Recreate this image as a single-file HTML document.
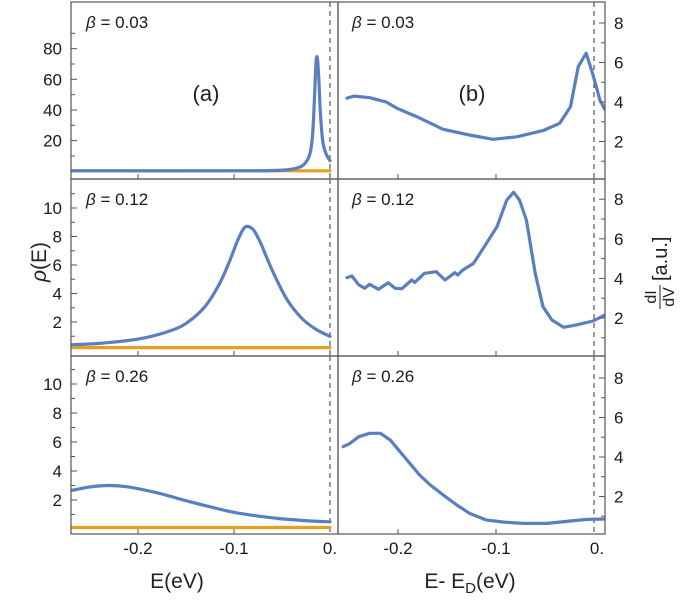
<!DOCTYPE html>
<html><head><meta charset="utf-8"><style>
body{margin:0;background:#fff;}
svg{display:block;font-family:"Liberation Sans",sans-serif;}
</style></head><body>
<svg id="c" width="685" height="602" xmlns="http://www.w3.org/2000/svg"></svg>
<script>
// ---- data ----
const topLeftX = [-0.27,-0.1,-0.06,-0.045,-0.035,-0.028,-0.023,-0.02,-0.018,-0.016,-0.0145,-0.013,-0.0115,-0.01,-0.008,-0.006,-0.003,0];
const topLeftY = [0.3,0.3,0.5,1,2,4,8,14,25,50,72,73,58,38,22,15,10,7];
const midLeftX = [-0.27,-0.24,-0.2,-0.17,-0.15,-0.13,-0.115,-0.105,-0.097,-0.09,-0.085,-0.079,-0.072,-0.06,-0.045,-0.03,-0.015,0];
const midLeftY = [0.4,0.5,0.8,1.3,1.9,3.1,4.7,6.2,7.6,8.55,8.7,8.4,7.5,5.6,3.6,2.3,1.5,1.0];
const botLeftX = [-0.27,-0.25,-0.23,-0.21,-0.18,-0.15,-0.12,-0.1,-0.07,-0.05,-0.02,0];
const botLeftY = [2.65,2.9,3.0,2.9,2.5,1.95,1.45,1.15,0.85,0.7,0.55,0.5];
const orangeX = [-0.27,0];
const orangeTop = [0.3,0.3];
const orangeMid = [0.2,0.2];
const orangeBot = [0.1,0.1];
const topRightX = [-0.252,-0.245,-0.229,-0.212,-0.201,-0.181,-0.154,-0.127,-0.103,-0.079,-0.052,-0.035,-0.024,-0.016,-0.008,-0.001,0.006,0.011];
const topRightY = [4.19,4.3,4.22,4.0,3.68,3.26,2.62,2.33,2.11,2.24,2.55,2.92,3.76,5.79,6.47,5.37,4.1,3.63];
const midRightX = [-0.252,-0.247,-0.24,-0.234,-0.229,-0.22,-0.21,-0.203,-0.196,-0.186,-0.183,-0.173,-0.161,-0.152,-0.142,-0.139,-0.134,-0.123,-0.113,-0.099,-0.089,-0.082,-0.076,-0.069,-0.06,-0.052,-0.043,-0.031,-0.018,-0.001,0.011];
const midRightY = [4.04,4.12,3.67,3.5,3.7,3.45,3.78,3.5,3.48,3.92,3.8,4.26,4.34,3.92,4.29,4.17,4.42,4.76,5.52,6.61,7.96,8.35,7.96,6.95,4.26,2.57,1.9,1.53,1.65,1.85,2.15];
const botRightX = [-0.256,-0.249,-0.24,-0.229,-0.218,-0.208,-0.198,-0.188,-0.178,-0.167,-0.154,-0.14,-0.127,-0.11,-0.093,-0.072,-0.048,-0.024,-0.007,0.011];
const botRightY = [4.52,4.69,5.03,5.2,5.2,4.86,4.27,3.68,3.09,2.58,2.08,1.57,1.15,0.81,0.71,0.64,0.64,0.76,0.84,0.86];
const xTickVals = [-0.2,-0.1,0];
const xTickLabels = ["-0.2","-0.1","0."];
const topLeftTicks = [20,40,60,80];
const smallLeftTicks = [2,4,6,8,10];
const rightTicks = [2,4,6,8];
const betas = ["0.03","0.12","0.26"];

const NS="http://www.w3.org/2000/svg";
const svg=document.getElementById('c');
function el(tag,attrs,parent){const e=document.createElementNS(NS,tag);for(const k in attrs)e.setAttribute(k,attrs[k]);(parent||svg).appendChild(e);return e;}
const BLUE="#5a7fbf", ORANGE="#e6a020";
const rows=[{t:2,b:179},{t:179,b:356},{t:356,b:534}];
const L={l:71,r:338,x0:330,k:960};
const R={l:338,r:605,x0:594,k:980};
function xl(v){return L.x0+v*L.k;}
function xr(v){return R.x0+v*R.k;}
const leftY=[{z:171.3,s:1.533},{z:350.5,s:14.25},{z:529,s:14.5}];
const rightY=[{z:181,s:19.75},{z:357.6,s:19.8},{z:536,s:19.75}];

function line(xs,ys,fx,fy,color,name,clip,smooth){
  const P=xs.map((x,i)=>[fx(x),fy(ys[i])]);
  let p='M'+P[0][0].toFixed(1)+','+P[0][1].toFixed(1);
  for(let i=0;i<P.length-1;i++){
    if(smooth){
      const p0=P[Math.max(0,i-1)],p1=P[i],p2=P[i+1],p3=P[Math.min(P.length-1,i+2)];
      const c1=[p1[0]+(p2[0]-p0[0])/6,p1[1]+(p2[1]-p0[1])/6];
      const c2=[p2[0]-(p3[0]-p1[0])/6,p2[1]-(p3[1]-p1[1])/6];
      p+='C'+c1[0].toFixed(1)+','+c1[1].toFixed(1)+' '+c2[0].toFixed(1)+','+c2[1].toFixed(1)+' '+p2[0].toFixed(1)+','+p2[1].toFixed(1);
    } else p+='L'+P[i+1][0].toFixed(1)+','+P[i+1][1].toFixed(1);
  }
  const e=el('path',{d:p,fill:'none',stroke:color,'stroke-width':3.2,'stroke-linejoin':'round','stroke-linecap':'round','clip-path':'url(#'+clip+')'});
  
  
}
const defs=el('defs',{});
rows.forEach((r,i)=>{
  const c1=el('clipPath',{id:'cl'+i},defs); el('rect',{x:L.l,y:r.t,width:L.r-L.l,height:r.b-r.t},c1);
  const c2=el('clipPath',{id:'cr'+i},defs); el('rect',{x:R.l,y:r.t,width:R.r-R.l,height:r.b-r.t},c2);
});

const leftData=[[topLeftX,topLeftY,orangeTop],[midLeftX,midLeftY,orangeMid],[botLeftX,botLeftY,orangeBot]];
const rightData=[[topRightX,topRightY],[midRightX,midRightY],[botRightX,botRightY]];
const leftTickSets=[topLeftTicks,smallLeftTicks,smallLeftTicks];
const leftMinor=[[10,30,50,70,90],[1,3,5,7,9,11],[1,3,5,7,9,11]];

rows.forEach((r,i)=>{
  const fyL=v=>leftY[i].z-v*leftY[i].s;
  const fyR=v=>rightY[i].z-v*rightY[i].s;
  const d1=el('line',{x1:xl(0),x2:xl(0),y1:r.t,y2:r.b,stroke:'#333','stroke-width':1,'stroke-dasharray':'5,4'});
  
  
  const d2=el('line',{x1:xr(0),x2:xr(0),y1:r.t,y2:r.b,stroke:'#333','stroke-width':1,'stroke-dasharray':'5,4'});
  
  
  line(orangeX,leftData[i][2],xl,fyL,ORANGE,'orange-curve-'+i,'cl'+i,false);
  line(leftData[i][0],leftData[i][1],xl,fyL,BLUE,'dos-curve-'+i,'cl'+i,true);
  line(rightData[i][0],rightData[i][1],xr,fyR,BLUE,'didv-curve-'+i,'cr'+i,false);
  const f1=el('rect',{x:L.l,y:r.t,width:L.r-L.l,height:r.b-r.t,fill:'none',stroke:'#555','stroke-width':1.2});
  
  
  const f2=el('rect',{x:R.l,y:r.t,width:R.r-R.l,height:r.b-r.t,fill:'none',stroke:'#555','stroke-width':1.2});
  
  
  xTickVals.slice(0,2).forEach(v=>{
    el('line',{x1:xl(v),x2:xl(v),y1:r.b,y2:r.b-5,stroke:'#555'});
    el('line',{x1:xr(v),x2:xr(v),y1:r.b,y2:r.b-5,stroke:'#555'});
  });
  leftTickSets[i].forEach(v=>{
    const y=fyL(v);
    el('line',{x1:L.l,x2:L.l+6,y1:y,y2:y,stroke:'#555'});
    const t=el('text',{x:62,y:y+6,'text-anchor':'end','font-size':17,fill:'#1a1a1a'});
    t.textContent=v;
    
    
  });
  leftMinor[i].forEach(v=>{const y=fyL(v); if(y>r.t) el('line',{x1:L.l,x2:L.l+4,y1:y,y2:y,stroke:'#555'});});
  rightTicks.forEach(v=>{
    const y=fyR(v);
    el('line',{x1:R.r,x2:R.r-6,y1:y,y2:y,stroke:'#555'});
    const t=el('text',{x:614,y:y+6,'font-size':17,fill:'#1a1a1a'});
    t.textContent=v;
    
    
  });
  [1,3,5,7].forEach(v=>{const y=fyR(v); el('line',{x1:R.r,x2:R.r-4,y1:y,y2:y,stroke:'#555'});});
  [86,352].forEach((x,j)=>{
    const t=el('text',{x:x,y:r.t+26,'font-size':17,fill:'#1a1a1a'});
    t.innerHTML='<tspan font-style="italic">β</tspan> = '+betas[i];
    
    
  });
});
xTickVals.forEach((v,i)=>{
  const a=el('text',{x:xl(v),y:554,'text-anchor':'middle','font-size':17,fill:'#1a1a1a'});
  a.textContent=xTickLabels[i];
  
  
  const b=el('text',{x:xr(v)+(v===0?3:0),y:554,'text-anchor':'middle','font-size':17,fill:'#1a1a1a'});
  b.textContent=xTickLabels[i];
  
  
});
</script>
<svg width="685" height="602" style="position:absolute;left:0;top:0" xmlns="http://www.w3.org/2000/svg">
<text x="206" y="101" text-anchor="middle" font-size="22" fill="#222" font-family="Liberation Sans, sans-serif">(a)</text>
<text x="472" y="101" text-anchor="middle" font-size="22" fill="#222" font-family="Liberation Sans, sans-serif">(b)</text>
<text x="177" y="588" text-anchor="middle" font-size="21" fill="#222" font-family="Liberation Sans, sans-serif">E(eV)</text>
<text x="470" y="588" text-anchor="middle" font-size="21" fill="#222" font-family="Liberation Sans, sans-serif">E- E<tspan font-size="15" dy="5">D</tspan><tspan dy="-5">(eV)</tspan></text>
<text transform="translate(46,262) rotate(-90)" text-anchor="middle" font-size="21" fill="#222" font-family="Liberation Sans, sans-serif"><tspan font-style="italic">ρ</tspan>(E)</text>
<g transform="translate(660,265) rotate(-90)" font-family="Liberation Sans, sans-serif" fill="#222">
<text x="-32" y="-4" text-anchor="middle" font-size="16">dI</text>
<line x1="-44" x2="-20" y1="0" y2="0" stroke="#222" stroke-width="1"/>
<text x="-32" y="14" text-anchor="middle" font-size="16">dV</text>
<text x="-16" y="7" font-size="20">[a.u.]</text>
</g>
</svg>
</body></html>
